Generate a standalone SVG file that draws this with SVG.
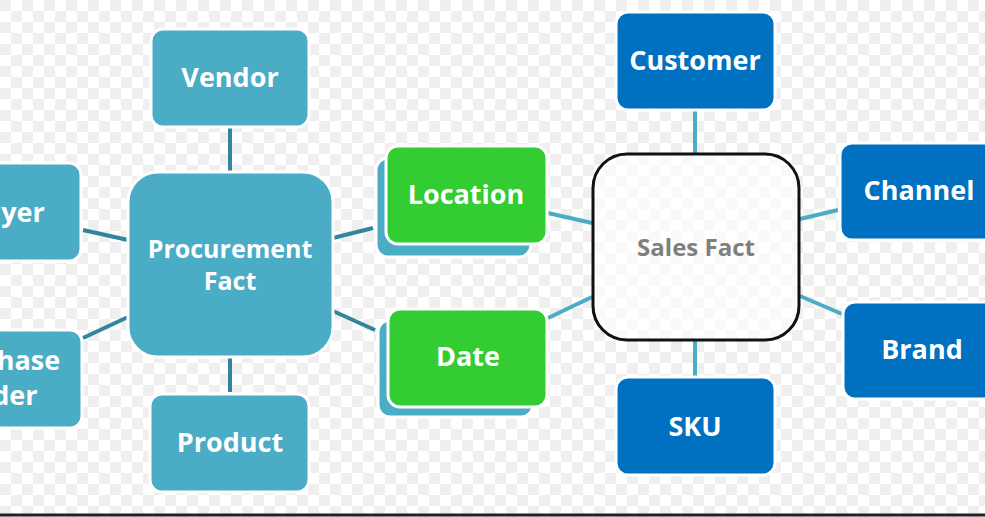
<svg xmlns="http://www.w3.org/2000/svg" width="985" height="517" viewBox="0 0 985 517">
<defs>
<pattern id="chk" width="22" height="22" patternUnits="userSpaceOnUse"><rect width="22" height="22" fill="#ffffff"/><rect width="11" height="11" fill="#efefef"/><rect x="11" y="11" width="11" height="11" fill="#efefef"/></pattern>
<style>
.t{fill:#4BACC6;stroke:#fff;stroke-width:3}
.b{fill:#0070C0;stroke:#fff;stroke-width:3}
.g{fill:#33CC33;stroke:#fff;stroke-width:3}
.lbl{font-family:"Open Sans","DejaVu Sans",sans-serif;font-weight:bold;fill:#fff;font-size:27px;text-anchor:middle}
.c1{stroke:#31859C;stroke-width:4}
.c2{stroke:#4BACC6;stroke-width:4}
</style>
</defs>
<rect width="985" height="517" fill="url(#chk)"/>
<line x1="0" y1="515" x2="985" y2="515" stroke="#222" stroke-width="3"/>
<g id="connectors">
<line class="c1" x1="230" y1="126" x2="230" y2="172"/>
<line class="c1" x1="83" y1="230" x2="128" y2="240"/>
<line class="c1" x1="83" y1="338" x2="128" y2="317"/>
<line class="c1" x1="230" y1="357" x2="230" y2="392"/>
<line class="c1" x1="333" y1="238" x2="373" y2="228"/>
<line class="c1" x1="333" y1="311" x2="375" y2="330"/>
<line class="c2" x1="548" y1="213" x2="592" y2="223"/>
<line class="c2" x1="548" y1="318" x2="592" y2="297"/>
<line class="c2" x1="695" y1="110" x2="695" y2="153"/>
<line class="c2" x1="695" y1="340" x2="695" y2="376"/>
<line class="c2" x1="800" y1="219" x2="838" y2="210"/>
<line class="c2" x1="800" y1="296" x2="842" y2="314"/>
</g>
<g id="vendor"><rect class="t" x="151" y="29" width="158" height="98" rx="12"/><text class="lbl" x="230" y="87">Vendor</text></g>
<g id="buyer"><rect class="t" x="-78" y="163" width="159" height="98" rx="12"/><text class="lbl" x="5" y="222">Buyer</text></g>
<g id="procurement"><rect class="t" x="128" y="172" width="205" height="185" rx="30"/><text class="lbl" x="230" y="258" style="font-size:25px">Procurement</text><text class="lbl" x="230" y="290" style="font-size:25px">Fact</text></g>
<g id="purchase-order"><rect class="t" x="-80" y="330" width="162" height="98" rx="12"/><text class="lbl" x="-2" y="370">Purchase</text><text class="lbl" x="-2" y="405">Order</text></g>
<g id="product"><rect class="t" x="150" y="394" width="159" height="98" rx="12"/><text class="lbl" x="230" y="452">Product</text></g>
<g id="location"><rect class="t" x="376" y="158" width="155" height="99" rx="12"/><rect class="g" x="386" y="146" width="161" height="98" rx="12"/><text class="lbl" x="466" y="204">Location</text></g>
<g id="date"><rect class="t" x="378" y="320" width="155" height="97" rx="12"/><rect class="g" x="388" y="309" width="159" height="98" rx="12"/><text class="lbl" x="468" y="366">Date</text></g>
<g id="sales-fact"><rect x="593" y="154" width="206" height="186" rx="34" fill="#fff" fill-opacity="0.6" stroke="#111" stroke-width="3"/><text class="lbl" x="696" y="256" style="font-size:24px;fill:#7f7f7f">Sales Fact</text></g>
<g id="customer"><rect class="b" x="616" y="12" width="159" height="98" rx="12"/><text class="lbl" x="695" y="70">Customer</text></g>
<g id="channel"><rect class="b" x="840" y="143" width="160" height="97" rx="12"/><text class="lbl" x="919" y="200">Channel</text></g>
<g id="brand"><rect class="b" x="843" y="302" width="160" height="97" rx="12"/><text class="lbl" x="922" y="359">Brand</text></g>
<g id="sku"><rect class="b" x="616" y="377" width="159" height="98" rx="12"/><text class="lbl" x="695" y="436">SKU</text></g>
</svg>
